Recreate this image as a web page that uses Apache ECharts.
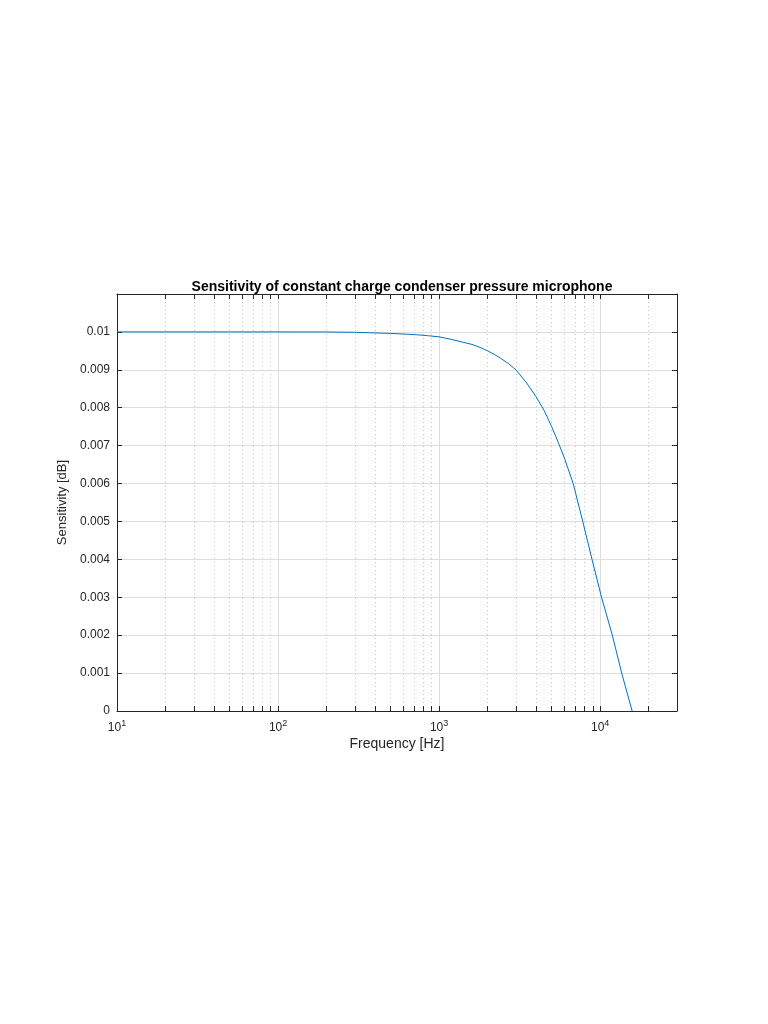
<!DOCTYPE html>
<html>
<head>
<meta charset="utf-8">
<script src="https://cdn.jsdelivr.net/npm/echarts@6/dist/echarts.min.js"></script>
<style>
html,body{margin:0;padding:0;background:#fff;}
#chart{width:768px;height:1024px;}
</style>
</head>
<body>
<div id="chart"></div>
<script>
// Frequency [Hz] and sensitivity values
const freqs = [10, 50, 100, 200, 300, 500, 700, 850, 1000, 1200, 1400, 1600, 1800, 2000, 2200, 2400, 2700, 3000, 3500, 4000, 4500, 5000, 5500, 6000, 6800, 7800, 8900, 10200, 11900, 13600, 15800];
const sensitivity = [0.01, 0.01, 0.01, 0.009998, 0.00999, 0.00996, 0.00993, 0.0099, 0.00987, 0.0098, 0.00973, 0.00967, 0.00959, 0.0095, 0.00941, 0.00931, 0.00916, 0.009, 0.00865, 0.00829, 0.00792, 0.0075, 0.00708, 0.00667, 0.0060, 0.0050, 0.0040, 0.0030, 0.0020, 0.0010, 0.0];
const majorTicks = [10, 100, 1000, 10000];
const minorTicks = [20,30,40,50,60,70,80,90,200,300,400,500,600,700,800,900,2000,3000,4000,5000,6000,7000,8000,9000,20000];
const allTicks = majorTicks.concat(minorTicks);
const titleText = 'Sensitivity of constant charge condenser pressure microphone';
const xName = 'Frequency [Hz]';
const yName = 'Sensitivity [dB]';

const txt = '#262626';
const ff = 'Liberation Sans, Arial, sans-serif';
const chart = echarts.init(document.getElementById('chart'), null, {renderer: 'canvas'});
const supFmt = v => {
  const e = Math.round(Math.log10(v));
  return '{b|10}{s|' + e + '}';
};
const gridBox = {left: 117, right: 91, top: 294, bottom: 313, outerBoundsMode: 'none', containLabel: false};
const baseX = {type: 'log', logBase: 10, min: 10, max: 30000};
const baseY = {type: 'value', min: 0, max: 0.011, interval: 0.001};
const frameLine = {show: true, onZero: false, lineStyle: {color: txt, width: 1}};
const noLine = {show: false, onZero: false};
chart.setOption({
  backgroundColor: '#fff',
  animation: false,
  title: {
    text: titleText, left: 397, top: 275, textAlign: 'center',
    textStyle: {fontFamily: ff, fontSize: 14, fontWeight: 'bold', color: '#000'}
  },
  grid: [Object.assign({z: 0}, gridBox), Object.assign({}, gridBox)],
  xAxis: [
    // grid lines (background grid)
    Object.assign({}, baseX, {
      gridIndex: 0, position: 'bottom', z: 0,
      axisLine: noLine,
      axisTick: {show: false, customValues: majorTicks},
      axisLabel: {show: false},
      splitLine: {show: true, lineStyle: {color: '#dedede', width: 1, type: 'solid'}}
    }),
    Object.assign({}, baseX, {
      gridIndex: 0, position: 'top', z: 0,
      axisLine: noLine,
      axisTick: {show: false, customValues: minorTicks},
      axisLabel: {show: false},
      splitLine: {show: true, lineStyle: {color: '#c4c4c4', width: 1, type: [1, 3]}}
    }),
    // frame axes
    Object.assign({}, baseX, {
      gridIndex: 1, position: 'bottom',
      name: xName, nameLocation: 'middle', nameGap: 26,
      nameTextStyle: {fontFamily: ff, fontSize: 14, color: txt},
      axisLine: frameLine,
      axisTick: {show: true, inside: true, length: 5, lineStyle: {color: txt}, customValues: allTicks},
      axisLabel: {
        customValues: majorTicks, margin: 8, formatter: supFmt,
        rich: {
          b: {fontFamily: ff, fontSize: 12, color: txt},
          s: {fontFamily: ff, fontSize: 9, color: txt, padding: [0, 0, 9, 0]}
        }
      },
      splitLine: {show: false}, minorTick: {show: false}
    }),
    Object.assign({}, baseX, {
      gridIndex: 1, position: 'top',
      axisLine: frameLine,
      axisTick: {show: true, inside: true, length: 5, lineStyle: {color: txt}, customValues: allTicks},
      axisLabel: {show: false},
      splitLine: {show: false}
    })
  ],
  yAxis: [
    Object.assign({}, baseY, {
      gridIndex: 0, position: 'left', z: 0,
      axisLine: noLine, axisTick: {show: false}, axisLabel: {show: false},
      splitLine: {show: true, lineStyle: {color: '#dedede', width: 1}}
    }),
    Object.assign({}, baseY, {
      gridIndex: 1, position: 'left',
      name: yName, nameLocation: 'middle', nameGap: 45, nameRotate: 90,
      nameTextStyle: {fontFamily: ff, fontSize: 13, color: txt},
      axisLine: frameLine,
      axisTick: {show: true, inside: true, length: 5, lineStyle: {color: txt}},
      axisLabel: {showMaxLabel: false, margin: 7, fontFamily: ff, fontSize: 12, color: txt},
      splitLine: {show: false}
    }),
    Object.assign({}, baseY, {
      gridIndex: 1, position: 'right',
      axisLine: frameLine,
      axisTick: {show: true, inside: true, length: 5, lineStyle: {color: txt}},
      axisLabel: {show: false},
      splitLine: {show: false}
    })
  ],
  series: [{
    type: 'line', xAxisIndex: 2, yAxisIndex: 1,
    data: freqs.map((f, i) => [f, sensitivity[i]]),
    showSymbol: false, symbol: 'none', smooth: false,
    lineStyle: {color: '#0072BD', width: 1}, clip: true, z: 5
  }]
});
</script>
</body>
</html>
